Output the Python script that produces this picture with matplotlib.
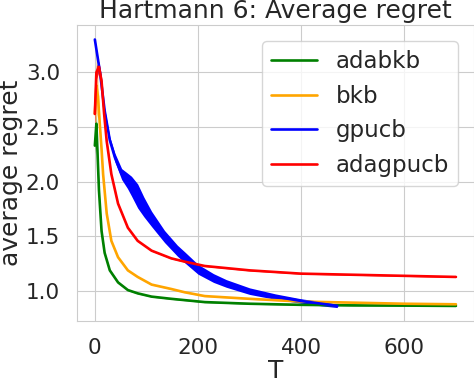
import numpy as np
import matplotlib
matplotlib.use("Agg")
import matplotlib.pyplot as plt
import seaborn as sns

# adabkb
t_adabkb = [0, 3, 8, 13, 19, 29, 45, 64, 83, 110, 148, 213, 300, 400, 500, 600, 700]
adabkb = [2.33, 2.53, 1.92, 1.55, 1.35, 1.19, 1.08, 1.01, 0.98, 0.95, 0.93, 0.90, 0.885, 0.875, 0.87, 0.868, 0.865]
adabkb_sd = [0.08, 0.1, 0.03, 0.02, 0.01, 0.01, 0.01, 0.005, 0.005, 0.005, 0.005, 0.005, 0.005, 0.005, 0.005, 0.005, 0.005]

# bkb
t_bkb = [0, 3, 6, 10, 13, 16, 23, 32, 45, 64, 83, 110, 148, 174, 213, 300, 400, 500, 600, 700]
bkb = [2.62, 2.88, 2.78, 2.5, 2.3, 2.07, 1.71, 1.46, 1.31, 1.19, 1.13, 1.06, 1.02, 0.99, 0.955, 0.93, 0.905, 0.895, 0.885, 0.88]
bkb_sd = [0.3, 0.3, 0.15, 0.06, 0.03, 0.02, 0.01, 0.01, 0.005, 0.005, 0.005, 0.005, 0.005, 0.005, 0.005, 0.005, 0.005, 0.005, 0.005, 0.005]

# gpucb
t_gpucb = [0, 5, 10, 19, 29, 39, 52, 63, 71, 83, 95, 110, 135, 160, 174, 200, 230, 255, 300, 350, 400, 440, 470]
gpucb = [3.30, 3.15, 3.00, 2.65, 2.38, 2.22, 2.07, 2.01, 1.96, 1.87, 1.77, 1.66, 1.50, 1.37, 1.31, 1.20, 1.12, 1.07, 1.00, 0.95, 0.91, 0.885, 0.865]
gpucb_sd = [0.01, 0.01, 0.015, 0.02, 0.03, 0.04, 0.05, 0.07, 0.09, 0.11, 0.09, 0.07, 0.055, 0.05, 0.05, 0.045, 0.04, 0.035, 0.03, 0.025, 0.02, 0.02, 0.015]

# adagpucb
t_adagpucb = [0, 3, 8, 13, 18, 23, 32, 45, 64, 83, 110, 148, 174, 213, 300, 400, 500, 600, 700]
adagpucb = [2.62, 3.0, 3.05, 2.92, 2.62, 2.37, 2.07, 1.80, 1.58, 1.46, 1.37, 1.30, 1.27, 1.23, 1.19, 1.16, 1.15, 1.14, 1.13]
adagpucb_sd = [0.2, 0.06, 0.05, 0.04, 0.03, 0.02, 0.01, 0.01, 0.005, 0.005, 0.005, 0.005, 0.005, 0.005, 0.005, 0.005, 0.005, 0.005, 0.005]

series = [
    ("adabkb", t_adabkb, adabkb, adabkb_sd, "green", 0.6),
    ("bkb", t_bkb, bkb, bkb_sd, "orange", 0.4),
    ("gpucb", t_gpucb, gpucb, gpucb_sd, "blue", 1.0),
    ("adagpucb", t_adagpucb, adagpucb, adagpucb_sd, "red", 0.8),
]

sns.set_style("whitegrid")
plt.rcParams['font.family'] = ['DejaVu Sans']

fig = plt.figure(figsize=(4.74, 3.84), dpi=100)
ax = fig.add_axes([0.162, 0.164, 0.838, 0.771])

for name, t, m, sd, c, a in series:
    t = np.array(t)
    m = np.array(m)
    sd = np.array(sd)
    ax.fill_between(t, m - sd, m + sd, color=c, alpha=a, lw=0)
    ax.plot(t, m, color=c, lw=1.9, label=name)

ax.set_xticks([0, 200, 400, 600])
ax.set_yticks([1.0, 1.5, 2.0, 2.5, 3.0])
ax.tick_params(labelsize=15.5, pad=8.5)
ax.set_xlabel("T", fontsize=18, labelpad=1)
ax.set_ylabel("average regret", fontsize=18, labelpad=2)
ax.set_title("Hartmann 6: Average regret", fontsize=18, pad=5)
ax.legend(loc="upper right", fontsize=16.5, borderaxespad=0.7)

fig.savefig("out.png", dpi=100)
